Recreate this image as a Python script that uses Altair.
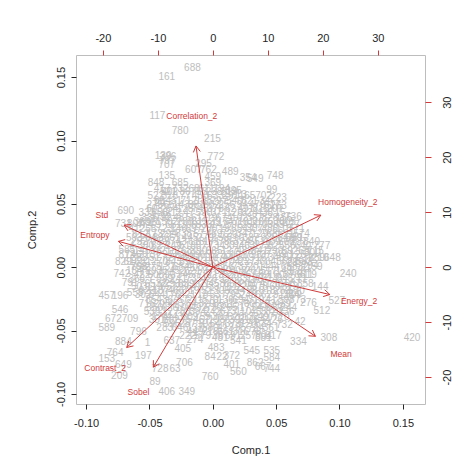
import altair as alt
import pandas as pd
import numpy as np

# ---- labelled observations away from the dense centre (id, Comp.1, Comp.2) ----
obs_ids = ["688", "161", "117", "780", "215", "139", "396", "772", "295", "707",
           "797", "607", "762", "489", "459", "135", "848", "354", "549", "748",
           "99", "223", "713", "263", "736", "751", "777", "648", "210", "300",
           "289", "794", "240", "619", "144", "509", "276", "527", "512", "732",
           "42", "334", "308", "420", "541", "881", "817", "545", "535", "584",
           "862", "667", "744", "372", "401", "560", "483", "84", "22", "760",
           "405", "706", "728", "63", "89", "406", "349", "197", "1", "884",
           "796", "764", "153", "649", "209", "589", "672", "709", "457", "196",
           "742", "690", "731", "807", "585", "812", "829", "768", "791", "553",
           "546", "521", "24", "32", "695", "481", "274", "637", "685", "369",
           "895"]
obs_c1 = [-0.0161, -0.0363, -0.0437, -0.0258, -0.0003, -0.0392, -0.0353, 0.0024, -0.0074, -0.0363,
          -0.0361, -0.0153, -0.0035, 0.0137, 0.0000, -0.0363, -0.0448, 0.0279, 0.0334, 0.0492,
          0.0466, 0.0518, 0.0202, 0.0518, 0.0636, 0.0650, 0.0861, 0.0944, 0.0847, 0.0786,
          0.0650, 0.0768, 0.1068, 0.0755, 0.0847, 0.0636, 0.0755, 0.0979, 0.0861, 0.0565,
          0.0689, 0.0676, 0.0916, 0.1573, 0.0202, 0.0399, 0.0478, 0.0308, 0.0466, 0.0466,
          0.0334, 0.0397, 0.0466, 0.0150, 0.0150, 0.0202, 0.0026, -0.0021, 0.0073, -0.0021,
          -0.0237, -0.0224, -0.0416, -0.0298, -0.0456, -0.0363, -0.0205, -0.0548, -0.0516, -0.0706,
          -0.0587, -0.0771, -0.0837, -0.0706, -0.0737, -0.0837, -0.0785, -0.0653, -0.0837, -0.0732,
          -0.0718, -0.0687, -0.0706, -0.0613, -0.0679, -0.0679, -0.0706, -0.0587, -0.0653, -0.0613,
          -0.0732, -0.0351, -0.0416, -0.0377, -0.0508, 0.0058, -0.0140, -0.0324, -0.0258, 0.0000,
          0.0163]
obs_c2 = [0.1571, 0.1500, 0.1194, 0.1076, 0.1015, 0.0879, 0.0871, 0.0868, 0.0813, 0.0808,
          0.0839, 0.0768, 0.0768, 0.0755, 0.0715, 0.0721, 0.0663, 0.0705, 0.0697, 0.0723,
          0.0610, 0.0549, 0.0571, 0.0484, 0.0399, 0.0234, 0.0168, 0.0071, 0.0071, 0.0111,
          0.0032, 0.0010, -0.0053, -0.0061, -0.0153, -0.0219, -0.0279, -0.0266, -0.0345, -0.0456,
          -0.0434, -0.0587, -0.0558, -0.0558, -0.0582, -0.0556, -0.0540, -0.0661, -0.0661, -0.0718,
          -0.0758, -0.0785, -0.0803, -0.0700, -0.0771, -0.0829, -0.0639, -0.0708, -0.0708, -0.0864,
          -0.0647, -0.0753, -0.0805, -0.0805, -0.0903, -0.0987, -0.0987, -0.0698, -0.0600, -0.0587,
          -0.0508, -0.0674, -0.0726, -0.0771, -0.0858, -0.0482, -0.0411, -0.0411, -0.0224, -0.0224,
          -0.0055, 0.0444, 0.0339, 0.0339, 0.0137, 0.0097, 0.0044, 0.0005, -0.0126, -0.0205,
          -0.0337, 0.0592, 0.0505, 0.0399, 0.0347, -0.0556, -0.0574, -0.0582, 0.0663, 0.0663,
          0.0598]

# ---- observations in the crowded centre, one list per row of Comp.2 ----
core_c2 = [0.062, 0.056, 0.049, 0.043, 0.036, 0.030, 0.023, 0.017, 0.010, 0.004,
           -0.003, -0.009, -0.016, -0.022, -0.029, -0.035, -0.042, -0.048, -0.054]
core_c1 = [
    [-0.040, -0.028, -0.017, -0.005, 0.007],
    [-0.045, -0.034, -0.022, -0.010, 0.002, 0.014, 0.027, 0.040],
    [-0.048, -0.037, -0.025, -0.013, -0.001, 0.011, 0.023, 0.035, 0.047],
    [-0.052, -0.042, -0.031, -0.019, -0.007, 0.005, 0.017, 0.029, 0.041, 0.053],
    [-0.056, -0.045, -0.034, -0.022, -0.010, 0.002, 0.014, 0.026, 0.038, 0.050, 0.059],
    [-0.060, -0.049, -0.038, -0.027, -0.015, -0.003, 0.009, 0.021, 0.033, 0.045, 0.056, 0.066],
    [-0.062, -0.051, -0.041, -0.030, -0.018, -0.006, 0.006, 0.018, 0.030, 0.042, 0.053, 0.064],
    [-0.064, -0.053, -0.042, -0.031, -0.020, -0.009, 0.003, 0.015, 0.027, 0.039, 0.050, 0.061, 0.071],
    [-0.063, -0.052, -0.040, -0.028, -0.016, -0.004, 0.008, 0.020, 0.032, 0.044, 0.056, 0.067],
    [-0.064, -0.053, -0.042, -0.031, -0.020, -0.009, 0.003, 0.015, 0.027, 0.039, 0.050, 0.061, 0.072],
    [-0.062, -0.051, -0.040, -0.028, -0.016, -0.004, 0.008, 0.020, 0.032, 0.044, 0.056, 0.067],
    [-0.060, -0.049, -0.038, -0.027, -0.015, -0.003, 0.009, 0.021, 0.033, 0.045, 0.057, 0.068],
    [-0.058, -0.046, -0.035, -0.023, -0.011, 0.001, 0.013, 0.025, 0.037, 0.049, 0.061],
    [-0.055, -0.044, -0.032, -0.020, -0.008, 0.004, 0.016, 0.028, 0.040, 0.052, 0.062],
    [-0.052, -0.040, -0.029, -0.017, -0.005, 0.007, 0.019, 0.031, 0.043, 0.055],
    [-0.048, -0.036, -0.024, -0.012, 0.000, 0.012, 0.024, 0.036, 0.048, 0.058],
    [-0.044, -0.033, -0.021, -0.009, 0.003, 0.015, 0.027, 0.039, 0.051],
    [-0.038, -0.026, -0.014, -0.002, 0.010, 0.022, 0.034, 0.046],
    [-0.020, -0.008, 0.004, 0.016, 0.028, 0.040],
]
core_ids = [
    ["417", "73", "268", "611", "194"],
    ["522", "318", "77", "450", "633", "291", "165", "702"],
    ["27", "566", "143", "381", "802", "256", "94", "479", "617"],
    ["333", "658", "212", "47", "590", "371", "126", "824", "438", "15"],
    ["363", "71", "502", "288", "615", "39", "747", "181", "266", "530", "805"],
    ["412", "58", "723", "146", "697", "230", "19", "654", "307", "486", "118", "771"],
    ["593", "204", "836", "61", "445", "279", "158", "710", "337", "92", "564", "699"],
    ["4", "380", "627", "249", "518", "87", "734", "301", "463", "172", "825", "56", "640"],
    ["746", "313", "29", "582", "409", "655", "233", "101", "798", "377", "490", "125"],
    ["616", "81", "270", "843", "392", "13", "559", "704", "227", "366", "45", "681", "533"],
    ["184", "729", "35", "452", "621", "97", "340", "808", "261", "517", "149", "676"],
    ["368", "7", "599", "241", "735", "426", "53", "683", "190", "314", "845", "271"],
    ["503", "119", "657", "286", "410", "33", "761", "225", "578", "69", "813"],
    ["302", "644", "176", "421", "18", "537", "795", "248", "662", "91", "384"],
    ["716", "205", "473", "64", "329", "851", "157", "606", "282", "439"],
    ["538", "12", "788", "394", "242", "673", "110", "455", "820", "236"],
    ["351", "602", "75", "467", "198", "739", "310", "544", "26"],
    ["283", "646", "137", "580", "413", "95", "724", "361"],
    ["222", "579", "38", "691", "257", "804"],
]

# second, offset set of centre rows lying between the rows above
mid_c2 = [0.059, 0.052, 0.046, 0.039, 0.033, 0.026, 0.020, 0.013, 0.007, 0.000,
          -0.006, -0.013, -0.019, -0.026, -0.032, -0.039, -0.045, -0.051]
mid_c1 = [
    [-0.034, -0.022, -0.011, 0.001, 0.013],
    [-0.042, -0.031, -0.019, -0.007, 0.005, 0.017, 0.029, 0.041],
    [-0.046, -0.034, -0.022, -0.010, 0.002, 0.014, 0.026, 0.038, 0.049],
    [-0.050, -0.039, -0.027, -0.015, -0.003, 0.009, 0.021, 0.033, 0.045, 0.056],
    [-0.054, -0.043, -0.031, -0.019, -0.007, 0.005, 0.017, 0.029, 0.041, 0.052, 0.062],
    [-0.057, -0.046, -0.035, -0.023, -0.011, 0.001, 0.013, 0.025, 0.037, 0.049, 0.060, 0.070],
    [-0.058, -0.047, -0.036, -0.025, -0.013, -0.001, 0.011, 0.023, 0.035, 0.047, 0.058, 0.068, 0.078],
    [-0.058, -0.047, -0.035, -0.023, -0.011, 0.001, 0.013, 0.025, 0.037, 0.049, 0.061, 0.072, 0.081],
    [-0.058, -0.046, -0.034, -0.022, -0.010, 0.002, 0.014, 0.026, 0.038, 0.050, 0.062, 0.073, 0.082],
    [-0.058, -0.047, -0.036, -0.025, -0.014, -0.002, 0.010, 0.022, 0.034, 0.046, 0.058, 0.069, 0.080],
    [-0.056, -0.045, -0.034, -0.022, -0.010, 0.002, 0.014, 0.026, 0.038, 0.050, 0.062, 0.073],
    [-0.054, -0.043, -0.032, -0.021, -0.009, 0.003, 0.015, 0.027, 0.039, 0.051, 0.063, 0.073],
    [-0.052, -0.041, -0.029, -0.017, -0.005, 0.007, 0.019, 0.031, 0.043, 0.055, 0.066],
    [-0.049, -0.038, -0.026, -0.014, -0.002, 0.010, 0.022, 0.034, 0.046, 0.058, 0.067],
    [-0.046, -0.034, -0.023, -0.011, 0.001, 0.013, 0.025, 0.037, 0.049, 0.060],
    [-0.042, -0.030, -0.018, -0.006, 0.006, 0.018, 0.030, 0.042, 0.054],
    [-0.032, -0.020, -0.008, 0.004, 0.016, 0.028, 0.040],
    [-0.014, -0.002, 0.010, 0.022, 0.034],
]
mid_ids = [
    ["402", "86", "753", "238", "519"],
    ["66", "431", "712", "185", "297", "540", "821", "34"],
    ["603", "254", "128", "745", "378", "62", "491", "816", "207"],
    ["335", "792", "48", "561", "219", "674", "102", "387", "828", "155"],
    ["474", "9", "651", "306", "833", "142", "596", "258", "703", "83", "427"],
    ["612", "173", "294", "838", "57", "469", "720", "347", "129", "686", "21", "574"],
    ["252", "705", "397", "43", "618", "171", "786", "324", "551", "109", "668", "237", "840"],
    ["14", "536", "218", "763", "390", "665", "127", "482", "841", "299", "592", "68", "715"],
    ["383", "51", "727", "262", "601", "107", "448", "819", "16", "348", "571", "232", "659"],
    ["793", "275", "131", "684", "408", "23", "556", "737", "201", "444", "65", "832", "159"],
    ["422", "608", "90", "345", "778", "213", "528", "46", "689", "160", "376", "811"],
    ["76", "532", "293", "839", "121", "458", "666", "208", "741", "30", "587", "358"],
    ["623", "187", "466", "719", "52", "305", "634", "98", "818", "253", "520"],
    ["85", "436", "757", "211", "570", "136", "694", "319", "41", "598", "773"],
    ["356", "626", "104", "492", "730", "265", "17", "547", "687", "244"],
    ["174", "443", "809", "59", "367", "620", "132", "497", "770"],
    ["595", "287", "10", "647", "373", "120", "834"],
    ["449", "216", "661", "316", "78"],
]

# ---- variable loadings (label positions, on the top/right scale) ----
var_names = ["Correlation_2", "Homogeneity_2", "Std", "Entropy",
             "Energy_2", "Mean", "Contrast_2", "Sobel"]
var_l1 = [-3.82, 24.55, -20.18, -21.45, 26.6, 23.33, -19.58, -13.53]
var_l2 = [27.56, 11.82, 9.56, 5.87, -6.22, -15.71, -18.25, -22.73]

# ---- axis ranges ----
lim = [-0.108, 0.1675]          # Comp.1 / Comp.2 limits
ratio = 230.4                   # loadings scale / scores scale
lim2 = [lim[0] * ratio, lim[1] * ratio]
ticks1 = [-0.10, -0.05, 0.00, 0.05, 0.10, 0.15]
ticks2 = [-20, -10, 0, 10, 20, 30]

GREY = "#BEBEBE"
RED = "#D03A3A"
INK = "#262626"
FONT = "Liberation Sans"

# ---- assemble tables ----
rows = []
for i, c1, c2 in zip(obs_ids, obs_c1, obs_c2):
    rows.append((i, c1, c2))
for ys, xss, idss in ((core_c2, core_c1, core_ids), (mid_c2, mid_c1, mid_ids)):
    for y, xs, ids in zip(ys, xss, idss):
        for x, i in zip(xs, ids):
            rows.append((i, x, y))
scores = pd.DataFrame(rows, columns=["id", "c1", "c2"])

load = pd.DataFrame({"var": var_names, "l1": var_l1, "l2": var_l2})
load["x0"] = 0.0
load["y0"] = 0.0
load["t1"] = 0.8 * load["l1"]
load["t2"] = 0.8 * load["l2"]
# arrow heads: two short strokes 30 degrees either side of the shaft
head_len = 1.27
ang = np.arctan2(load["t2"], load["t1"])
for name, s in (("a", 1), ("b", -1)):
    load["h1" + name] = load["t1"] - head_len * np.cos(ang + s * np.pi / 6)
    load["h2" + name] = load["t2"] - head_len * np.sin(ang + s * np.pi / 6)

signed2 = "(datum.value < 0 ? '-' : '') + format(abs(datum.value), '.2f')"
signed0 = "(datum.value < 0 ? '-' : '') + format(abs(datum.value), 'd')"

common_axis = dict(domain=False, grid=False, labelFont=FONT, labelFontSize=11,
                   labelColor=INK, labelFlush=False, labelOverlap=False,
                   tickWidth=1, titleFont=FONT, titleFontSize=11,
                   titleFontWeight="normal", titleColor=INK)

ax_bottom = alt.Axis(orient="bottom", values=ticks1, labelExpr=signed2,
                     tickColor=INK, tickSize=5, labelPadding=8,
                     title="Comp.1", titleX=174.5, titleY=46,
                     titleAlign="center", titleBaseline="middle", **common_axis)
ax_left = alt.Axis(orient="left", values=ticks1, labelExpr=signed2,
                   tickColor=INK, tickSize=5, labelPadding=5,
                   labelAngle=270, labelAlign="center", labelBaseline="bottom",
                   title="Comp.2", titleAngle=270, titleX=-44, titleY=174.5,
                   titleAlign="center", titleBaseline="middle", **common_axis)
ax_top = alt.Axis(orient="top", values=ticks2, labelExpr=signed0,
                  tickColor=RED, tickSize=5, labelPadding=7,
                  title=None, **common_axis)
ax_right = alt.Axis(orient="right", values=ticks2, labelExpr=signed0,
                    tickColor=RED, tickSize=6, labelPadding=10,
                    labelAngle=270, labelAlign="center", labelBaseline="top",
                    title=None, **common_axis)

sx1 = alt.Scale(domain=lim, nice=False, zero=False)
sy1 = alt.Scale(domain=lim, nice=False, zero=False)
sx2 = alt.Scale(domain=lim2, nice=False, zero=False)
sy2 = alt.Scale(domain=lim2, nice=False, zero=False)

points = alt.Chart(scores).mark_text(
    font=FONT, fontSize=10, color=GREY, align="center", baseline="middle"
).encode(
    x=alt.X("c1:Q", scale=sx1, axis=ax_bottom),
    y=alt.Y("c2:Q", scale=sy1, axis=ax_left),
    text="id:N",
)

base = alt.Chart(load)
shaft = base.mark_rule(color=RED, strokeWidth=1).encode(
    x=alt.X("x0:Q", scale=sx2, axis=ax_top),
    y=alt.Y("y0:Q", scale=sy2, axis=ax_right),
    x2="t1:Q", y2="t2:Q",
)
head_a = base.mark_rule(color=RED, strokeWidth=1).encode(
    x=alt.X("t1:Q", scale=sx2, axis=ax_top),
    y=alt.Y("t2:Q", scale=sy2, axis=ax_right),
    x2="h1a:Q", y2="h2a:Q",
)
head_b = base.mark_rule(color=RED, strokeWidth=1).encode(
    x=alt.X("t1:Q", scale=sx2, axis=ax_top),
    y=alt.Y("t2:Q", scale=sy2, axis=ax_right),
    x2="h1b:Q", y2="h2b:Q",
)
var_text = base.mark_text(
    font=FONT, fontSize=8.5, color=RED, align="center", baseline="middle"
).encode(
    x=alt.X("l1:Q", scale=sx2, axis=ax_top),
    y=alt.Y("l2:Q", scale=sy2, axis=ax_right),
    text="var:N",
)

loadings = alt.layer(shaft, head_a, head_b, var_text)

chart = alt.layer(points, loadings).resolve_scale(
    x="independent", y="independent"
).properties(
    width=349, height=349,
    padding={"left": 76, "top": 55, "right": 49, "bottom": 70},
    autosize=alt.AutoSizeParams(type="none"),
    background="white",
).configure_view(stroke="#BDBDBD", strokeWidth=1)

chart.save("out.html", embed_options={"renderer": "svg", "actions": False})
